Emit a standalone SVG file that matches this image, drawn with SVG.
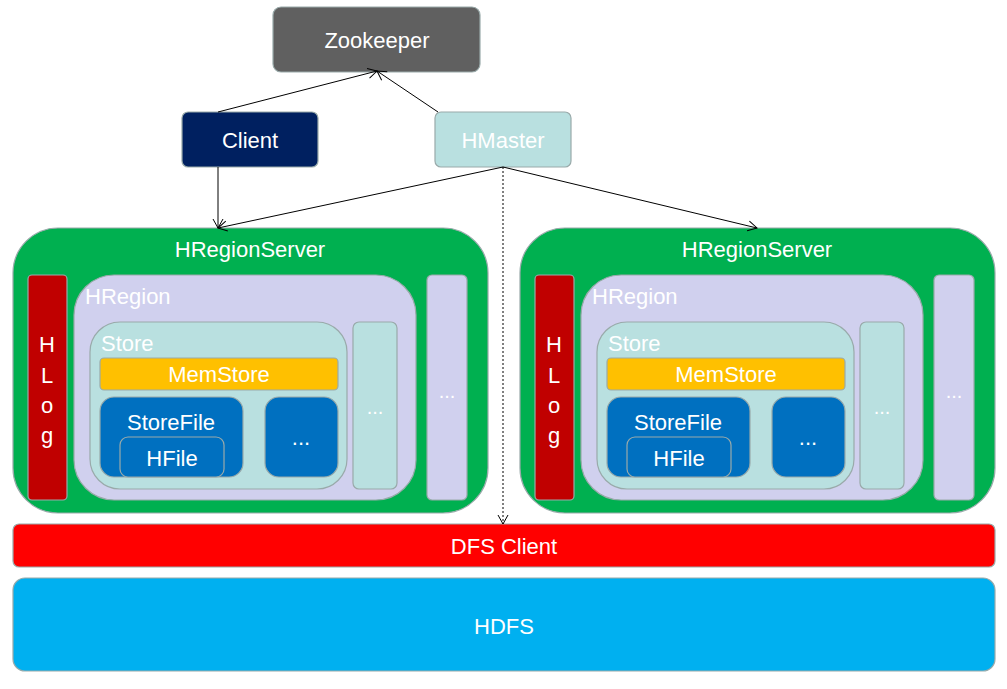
<svg xmlns="http://www.w3.org/2000/svg" width="1007" height="689" viewBox="0 0 1007 689">
<defs>
<style>
text{font-family:"Liberation Sans",Arial,sans-serif;fill:#fff}
.c{text-anchor:middle}
.b{stroke:#9aa;stroke-width:1.2}
.e{stroke:#000;stroke-width:1;fill:none}
</style>
<marker id="a" markerWidth="12" markerHeight="12" refX="10" refY="6" orient="auto" markerUnits="userSpaceOnUse"><path d="M1,1 L10,6 L1,11" fill="none" stroke="#000"/></marker>
<g id="srv">
<rect x="13" y="228" width="475" height="285" rx="45" fill="#00b050" class="b"/>
<text x="250" y="257" font-size="22" class="c">HRegionServer</text>
<rect x="28" y="275" width="39" height="225" rx="4" fill="#c00000" class="b"/>
<text x="47" y="352" font-size="22" class="c">H</text>
<text x="47" y="383" font-size="22" class="c">L</text>
<text x="47" y="413" font-size="22" class="c">o</text>
<text x="47" y="443" font-size="22" class="c">g</text>
<rect x="74" y="275" width="342" height="225" rx="40" fill="#d0d0ee" class="b"/>
<text x="85" y="304" font-size="22">HRegion</text>
<rect x="90" y="322" width="257" height="167" rx="30" fill="#b9e0e0" class="b"/>
<text x="101" y="351" font-size="22">Store</text>
<rect x="100" y="358" width="238" height="32" rx="4" fill="#ffc000" class="b"/>
<text x="219" y="382" font-size="22" class="c">MemStore</text>
<rect x="100" y="397" width="143" height="80" rx="14" fill="#0070c0" class="b"/>
<text x="171" y="430" font-size="22" class="c">StoreFile</text>
<rect x="120" y="437" width="104" height="40" rx="8" fill="#0070c0" class="b"/>
<text x="172" y="466" font-size="22" class="c">HFile</text>
<rect x="265" y="397" width="73" height="80" rx="14" fill="#0070c0" class="b"/>
<text x="301" y="445" font-size="22" class="c">...</text>
<rect x="353" y="322" width="44" height="167" rx="6" fill="#b9e0e0" class="b"/>
<text x="375" y="414" font-size="20" class="c">...</text>
<rect x="427" y="275" width="40" height="225" rx="5" fill="#d0d0ee" class="b"/>
<text x="447" y="398" font-size="20" class="c">...</text>
</g>
</defs>
<g id="server1"><use href="#srv"/></g>
<g id="server2"><use href="#srv" x="507"/></g>
<g id="zookeeper"><rect x="273" y="7" width="207" height="65" rx="8" fill="#606060" class="b"/><text x="377" y="48" font-size="22" class="c">Zookeeper</text></g>
<g id="client"><rect x="182" y="112" width="136" height="55" rx="6" fill="#002060" class="b"/><text x="250" y="148" font-size="22" class="c">Client</text></g>
<g id="hmaster"><rect x="435" y="112" width="136" height="55" rx="6" fill="#b9e0e0" class="b"/><text x="503" y="148" font-size="22" class="c">HMaster</text></g>
<g id="dfsclient"><rect x="13" y="524" width="982" height="43" rx="6" fill="#ff0000" class="b"/><text x="504" y="554" font-size="22" class="c">DFS Client</text></g>
<g id="hdfs"><rect x="13" y="578" width="982" height="93" rx="12" fill="#00b0f0" class="b"/><text x="504" y="634" font-size="22" class="c">HDFS</text></g>
<g id="connectors">
<line x1="218" y1="112" x2="377" y2="71" class="e" marker-end="url(#a)"/>
<line x1="438" y1="112" x2="377" y2="71" class="e" marker-end="url(#a)"/>
<line x1="218" y1="167" x2="218" y2="228" class="e" marker-end="url(#a)"/>
<line x1="503" y1="167" x2="218" y2="228" class="e" marker-end="url(#a)"/>
<line x1="503" y1="167" x2="757" y2="228" class="e" marker-end="url(#a)"/>
<line x1="503" y1="167" x2="503" y2="524" class="e" stroke-dasharray="2,2" marker-end="url(#a)"/>
</g>
</svg>
